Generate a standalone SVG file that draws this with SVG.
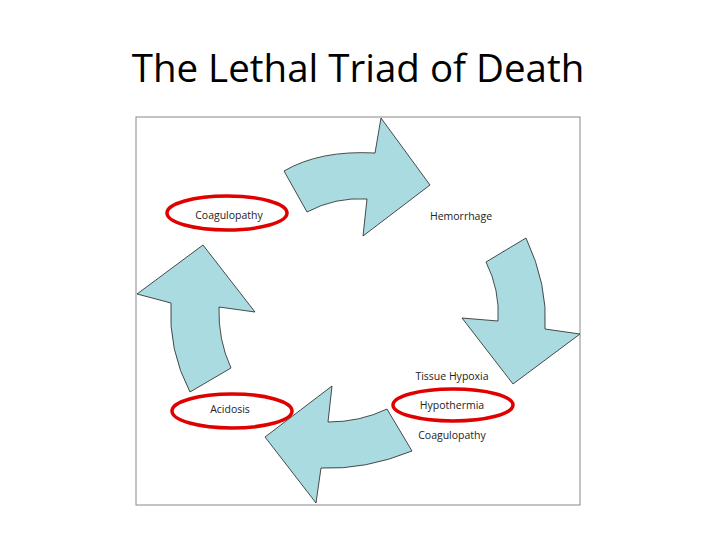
<svg xmlns="http://www.w3.org/2000/svg" width="720" height="540" viewBox="0 0 720 540">
<style>
.arr{fill:#a9dbe0;stroke:#222;stroke-width:0.8}
.ell{fill:none;stroke:#e00000;stroke-width:3.5}
.lbl{font-family:"Open Sans","DejaVu Sans",sans-serif;font-size:10.5px;fill:#222;text-anchor:middle}
.title{font-family:"Open Sans","Liberation Sans",sans-serif;font-size:38.5px;fill:#000;text-anchor:middle}
</style>
<rect width="720" height="540" fill="#fff"/>
<text class="title" x="358" y="82">The Lethal Triad of Death</text>
<rect x="136" y="117" width="444" height="388" fill="#fff" stroke="#888" stroke-width="1"/>
<g id="connectors">
<path class="arr" d="M284,171 Q320,150 375,153 L381,118 L430,185 L363,236 L367,199 Q335,197 307,212 Z"/>
<path class="arr" d="M526,238 Q548,285 545,329 L580,334 L513,384 L462,318 L498,321 Q500,290 486,262 Z"/>
<path class="arr" d="M387,409 L412,451 Q365,470 321,468 L316,503 L265,437 L332,386 L328,422 Q360,422 387,409 Z"/>
<path class="arr" d="M231,368 L190,392 Q168,350 171,303 L137,294 L203,245 L255,312 L219,307 Q218,340 231,368 Z"/>
</g>
<g id="coagulopathy1"><ellipse class="ell" cx="227" cy="213" rx="60" ry="17"/><text class="lbl" x="229" y="219">Coagulopathy</text></g>
<g id="hemorrhage"><text class="lbl" x="461" y="220">Hemorrhage</text></g>
<g id="tissue-hypoxia"><text class="lbl" x="452" y="380">Tissue Hypoxia</text></g>
<g id="hypothermia"><ellipse class="ell" cx="453" cy="405" rx="60" ry="16"/><text class="lbl" x="452" y="409">Hypothermia</text></g>
<g id="coagulopathy2"><text class="lbl" x="452" y="439">Coagulopathy</text></g>
<g id="acidosis"><ellipse class="ell" cx="232" cy="411" rx="60" ry="17"/><text class="lbl" x="230" y="413">Acidosis</text></g>
</svg>
